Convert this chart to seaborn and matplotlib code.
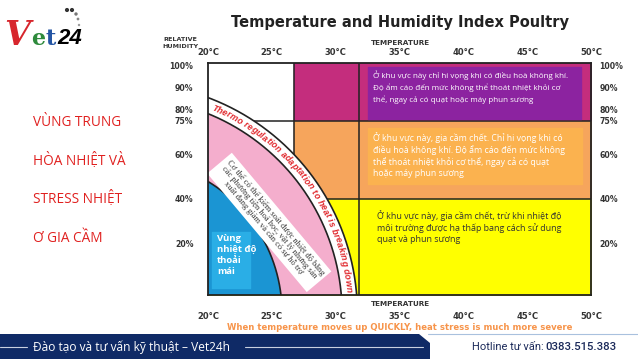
import numpy as np
import seaborn as sns
import matplotlib.pyplot as plt
from matplotlib import font_manager

sns.set_theme(style='white')
plt.rcParams['font.family'] = ['DejaVu Sans']

# axis data
temp_ticks = [20, 25, 30, 35, 40, 45, 50]
hum_ticks = [100, 90, 80, 75, 60, 40, 20]
temp_lim = (20, 50)
hum_lim = (-3.2, 101)

# zone borders (temperature in C, humidity in %)
temp_borders = [26.7, 31.8]
hum_borders = [40, 75]

# quarter arcs: common centre, radii in C and in %
arc_center = (13.7, -11.3)
arc_names = ['comfort', 'adaptation', 'breaking']
arc_rad_temp = [12.1, 16.8, 18.0]
arc_rad_hum = [69.2, 96.6, 103.3]
text_rad_temp = 17.42

# text boxes (temp from, temp to, hum from, hum to)
purple_box = [32.5, 49.2, 76, 99]
orange_box = [32.5, 49.3, 46.5, 72]
comfort_box = [20.3, 23.3, 0.0, 25.0]

txt_purple = ("Ở khu vực này chỉ hi vọng khi có điều hoà không khí.\n"
              "Độ ẩm cáo đến mức không thể thoát nhiệt khỏi cơ\n"
              "thể, ngay cả có quạt hoặc máy phun sương")
txt_orange = ("Ở khu vực này, gia cầm chết. Chỉ hi vọng khi có\n"
              "điều hoà không khí. Độ ẩm cáo đến mức không\n"
              "thể thoát nhiệt khỏi cơ thể, ngay cả có quạt\n"
              "hoặc máy phun sương")
txt_yellow = ("Ở khu vực này, gia cầm chết, trừ khi nhiệt độ\n"
              "môi trường được hạ thấp bang cách sử dung\n"
              "quạt và phun sương")
txt_comfort = "Vùng\nnhiệt độ\nthoải\nmái"
txt_adapt = ("Cơ thể có thể kiểm soát được nhiệt độ bằng\n"
             "các phương tiện hoá học, vật lý nhưng sản\n"
             "xuất đang giảm và cần có sự hỗ trợ")
txt_arc = "Thermo regulation adaptation to heat is breaking down"

white = '#ffffff'
magenta = '#c42d7d'
purple = '#8c23a0'
orange = '#f6a55c'
orange_in = '#fbb24f'
yellow = '#ffff00'
pink = '#f4aecd'
blue = '#1b95d3'
blue_in = '#2aaee6'
ink = '#222222'

fig = plt.figure(figsize=(6.38, 3.59), dpi=100)
fig.patch.set_facecolor('white')

# background layer in pixel units for the decorations
bg = fig.add_axes([0, 0, 1, 1])
bg.set_xlim(0, 638)
bg.set_ylim(359, 0)
bg.axis('off')

ax = fig.add_axes([208 / 638, 64 / 359, 383 / 638, 232 / 359])
ax.set_xlim(*temp_lim)
ax.set_ylim(*hum_lim)
ax.set_facecolor('white')

t0, t1 = temp_borders
h0, h1 = hum_borders
ax.fill_between([temp_lim[0], t0], h1, hum_lim[1], color=white, zorder=1)
ax.fill_between([t0, temp_lim[1]], h1, hum_lim[1], color=magenta, zorder=1)
ax.fill_between([temp_lim[0], t0], h0, h1, color=white, zorder=1)
ax.fill_between([t0, temp_lim[1]], h0, h1, color=orange, zorder=1)
ax.fill_between(list(temp_lim), hum_lim[0], h0, color=yellow, zorder=1)

# zone borders
ax.plot([temp_lim[0], temp_lim[1]], [h1, h1], color=ink, lw=1.1, zorder=2)
ax.plot([t0, temp_lim[1]], [h0, h0], color=ink, lw=1.1, zorder=2)
ax.plot([t0, t0], [h0, hum_lim[1]], color=ink, lw=1.1, zorder=2)

# arcs: breaking (white band), adaptation (pink), comfort (blue)
ang = np.linspace(0, np.pi / 2, 300)
fills = {'breaking': white, 'adaptation': pink, 'comfort': blue}
for k, name in enumerate(arc_names[::-1]):
    i = arc_names.index(name)
    xs = arc_center[0] + arc_rad_temp[i] * np.cos(ang)
    ys = arc_center[1] + arc_rad_hum[i] * np.sin(ang)
    ax.fill(np.r_[arc_center[0], xs], np.r_[arc_center[1], ys],
            color=fills[name], zorder=3 + k * 0.1, lw=0)
    sns.lineplot(x=xs, y=ys, sort=False, color=ink, lw=1.2, ax=ax,
                 zorder=4, estimator=None)

ax.plot([t1, t1], list(hum_lim), color=ink, lw=1.1, zorder=4)

# inner text boxes
ax.fill_between(purple_box[:2], purple_box[2], purple_box[3], color=purple, zorder=5)
ax.fill_between(orange_box[:2], orange_box[2], orange_box[3], color=orange_in, zorder=5)
ax.fill_between(comfort_box[:2], comfort_box[2], comfort_box[3], color=blue_in, zorder=5)

ax.text(32.9, 97.6, txt_purple, color='white', fontsize=5.8, va='top', ha='left',
        family='Open Sans', linespacing=1.5, zorder=6)
ax.text(32.9, 70.0, txt_orange, color='white', fontsize=6.3, va='top', ha='left',
        family='Open Sans', linespacing=1.3, zorder=6)
ax.text(33.2, 35.0, txt_yellow, color='#333333', fontsize=6.4, va='top', ha='left',
        family='Open Sans', linespacing=1.32, zorder=6)
ax.text(20.7, 24.0, txt_comfort, color='white', fontsize=6.8, va='top', ha='left',
        family='Open Sans', fontweight='bold', linespacing=1.25, zorder=6)
ax.text(24.8, 29.4, txt_adapt, color='#333333', fontsize=6.0, va='center', ha='center',
        family='Liberation Serif', rotation=-50, rotation_mode='anchor',
        linespacing=0.95, zorder=6,
        bbox=dict(boxstyle='square,pad=0.45', fc='white', ec='none'))

# red text along the arc, letter by letter on the baseline
prop = font_manager.FontProperties(family='Liberation Sans', weight='bold',
                                   style='italic', size=6.4)
rend = fig.canvas.get_renderer()


def text_w(s):
    return rend.get_text_width_height_descent(s + '|', prop, ismath=False)[0] - \
        rend.get_text_width_height_descent('|', prop, ismath=False)[0]


edges = np.array([text_w(txt_arc[:i]) if i else 0.0 for i in range(len(txt_arc) + 1)])
cx, cy = ax.transData.transform(arc_center)
px_t = ax.transData.transform((21, 0))[0] - ax.transData.transform((20, 0))[0]
R = text_rad_temp * px_t - 2.6
xl, yb = ax.transData.transform((temp_lim[0], hum_lim[0]))
th_start = np.arccos((xl - cx) / R) - 3 / R
th_end = np.arcsin((yb - cy) / R) + 3 / R
stretch = R * (th_start - th_end) / edges[-1]
inv = ax.transData.inverted()
for i, c in enumerate(txt_arc):
    if c == ' ':
        continue
    s = (edges[i] + edges[i + 1]) / 2
    th = th_start - s * stretch / R
    x, y = inv.transform((cx + R * np.cos(th), cy + R * np.sin(th)))
    ax.text(x, y, c, fontproperties=prop, color='#e0262b', ha='center', va='baseline',
            rotation=np.degrees(th) - 90, rotation_mode='anchor', zorder=6)

# ticks
ax.set_xticks(temp_ticks, labels=[f'{t}°C' for t in temp_ticks])
ax.set_yticks(hum_ticks, labels=[f'{h}%' for h in hum_ticks])
ax.tick_params(axis='x', length=0, pad=12, labelsize=6, labelcolor='#333333')
ax.tick_params(axis='y', length=0, pad=10.5, labelsize=5.6, labelcolor='#333333')
for lab in ax.get_xticklabels() + ax.get_yticklabels():
    lab.set_fontweight('bold')
top = ax.secondary_xaxis('top')
top.set_xticks(temp_ticks, labels=[f'{t}°C' for t in temp_ticks])
top.tick_params(length=0, pad=4, labelsize=6, labelcolor='#333333')
right = ax.secondary_yaxis('right')
right.set_yticks(hum_ticks, labels=[f'{h}%' for h in hum_ticks])
right.tick_params(length=0, pad=6, labelsize=5.6, labelcolor='#333333')
for sec in (top, right):
    for lab in sec.get_xticklabels() + sec.get_yticklabels():
        lab.set_fontweight('bold')
    for sp in sec.spines.values():
        sp.set_visible(False)
for sp in ax.spines.values():
    sp.set_visible(True)
    sp.set_color(ink)
    sp.set_linewidth(1.3)
    sp.set_zorder(7)

# titles and captions
bg.text(400, 22, 'Temperature and Humidity Index Poultry', fontsize=10.5,
        fontweight='bold', color=ink, ha='center', va='center')
bg.text(180, 43, 'RELATIVE\nHUMIDITY', fontsize=4.6, fontweight='bold', color='#333333',
        ha='center', va='center', linespacing=1.3)
bg.text(400, 43, 'TEMPERATURE', fontsize=5.2, fontweight='bold', color='#333333',
        ha='center', va='center')
bg.text(400, 304, 'TEMPERATURE', fontsize=5.2, fontweight='bold', color='#333333',
        ha='center', va='center')
bg.text(400, 327, 'When temperature moves up QUICKLY, heat stress is much more severe',
        fontsize=6.1, fontweight='bold', color='#f7944a', ha='center', va='center')

# left heading
for y, line in zip([122, 161, 199, 238],
                   ['VÙNG TRUNG', 'HÒA NHIỆT VÀ', 'STRESS NHIỆT', 'Ơ GIA CẦM']):
    bg.text(33, y, line, fontsize=9.8, color='#e0201f', family='Open Sans',
            ha='left', va='center')

# logo
bg.text(4, 45, 'V', fontsize=24, color='#d7262d', family='DejaVu Serif',
        fontweight='bold', style='italic', va='baseline')
bg.text(31, 45, 'e', fontsize=16, color='#2e8a3c', family='DejaVu Serif',
        fontweight='bold', va='baseline')
bg.text(46, 45, 't', fontsize=16, color='#2455a4', family='DejaVu Serif',
        fontweight='bold', va='baseline')
bg.text(57, 44, '24', fontsize=16, color='black', family='Liberation Sans',
        fontweight='bold', style='italic', va='baseline')
bg.scatter([67, 72, 76, 78, 79, 79, 78], [10, 10, 14, 19, 25, 32, 38],
           s=[9, 9, 6, 4, 3, 2, 2], color=['#333', '#333', '#777', '#888', '#999', '#aaa', '#bbb'],
           lw=0)

# footer
bg.fill([0, 419, 430, 430, 0], [334, 334, 343, 359, 359], color='#0f2a66', lw=0)
bg.plot([0, 27], [347, 347], color='#c8d0e0', lw=0.8)
bg.plot([245, 423], [347, 347], color='#c8d0e0', lw=0.8)
bg.text(33, 347, 'Đào tạo và tư vấn kỹ thuật – Vet24h', fontsize=8.6, color='white',
        family='Open Sans', ha='left', va='center')
bg.plot([428, 638], [334, 334], color='#a9c1de', lw=0.8)
bg.text(472, 347, 'Hotline tư vấn:', fontsize=8.0, color='#1b2a5a',
        family='Roboto', ha='left', va='center')
bg.text(617, 347, '0383.515.383', fontsize=8.2, color='#1b2a5a',
        family='Roboto', fontweight='medium', ha='right', va='center')

fig.savefig('out.png', dpi=100)
